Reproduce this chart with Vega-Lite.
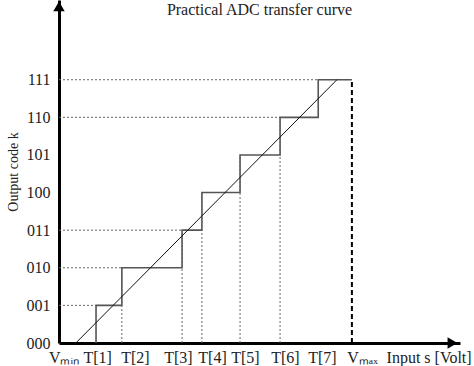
{
  "$schema": "https://vega.github.io/schema/vega-lite/v6.json",
  "width": 401,
  "height": 343,
  "autosize": "none",
  "padding": {"left": 59, "top": 0, "right": 14, "bottom": 23},
  "config": {"view": {"stroke": null}, "font": "Liberation Serif"},
  "title": {"text": "Practical ADC transfer curve", "fontSize": 16, "fontWeight": "normal", "font": "Liberation Serif", "color": "#222", "offset": -18, "anchor": "middle"},
  "datasets": {
    "steps": [
      {"s": 0.99, "code": 0, "i": 0},
      {"s": 0.99, "code": 1, "i": 1},
      {"s": 1.68, "code": 1, "i": 2},
      {"s": 1.68, "code": 2, "i": 3},
      {"s": 3.29, "code": 2, "i": 4},
      {"s": 3.29, "code": 3, "i": 5},
      {"s": 3.82, "code": 3, "i": 6},
      {"s": 3.82, "code": 4, "i": 7},
      {"s": 4.84, "code": 4, "i": 8},
      {"s": 4.84, "code": 5, "i": 9},
      {"s": 5.91, "code": 5, "i": 10},
      {"s": 5.91, "code": 6, "i": 11},
      {"s": 6.93, "code": 6, "i": 12},
      {"s": 6.93, "code": 7, "i": 13},
      {"s": 7.83, "code": 7, "i": 14}
    ],
    "diag": [{"s": 0.45, "code": 0}, {"s": 7.43, "code": 7}],
    "hguides": [
      {"s": 0, "t": 0.99, "code": 1}, {"s": 0, "t": 1.68, "code": 2}, {"s": 0, "t": 3.29, "code": 3}, {"s": 0, "t": 5.91, "code": 6}, {"s": 0, "t": 6.93, "code": 7}
    ],
    "vguides": [
      {"s": 1.68, "base": 0, "code": 2}, {"s": 3.29, "base": 0, "code": 3}, {"s": 3.82, "base": 0, "code": 4}, {"s": 4.84, "base": 0, "code": 5}, {"s": 5.91, "base": 0, "code": 6}
    ],
    "vmax": [{"s": 7.83, "base": 0, "code": 7}],
    "xarrow": [{"s": 10.52, "code": 0}],
    "yarrow": [{"s": 0, "code": 8.95}]
  },
  "layer": [
    {
      "data": {"name": "steps"},
      "mark": {"type": "line", "color": "#555", "strokeWidth": 1.6},
      "encoding": {
        "x": {"field": "s", "type": "quantitative",
          "scale": {"domain": [0, 10.72], "nice": false, "zero": false},
          "axis": {"values": [0.12, 1.02, 2.03, 3.18, 4.09, 4.97, 6.04, 7.03, 8.1, 9.88],
            "labelExpr": "datum.value == 0.12 ? 'Vₘᵢₙ' : datum.value == 1.02 ? 'T[1]' : datum.value == 2.03 ? 'T[2]' : datum.value == 3.18 ? 'T[3]' : datum.value == 4.09 ? 'T[4]' : datum.value == 4.97 ? 'T[5]' : datum.value == 6.04 ? 'T[6]' : datum.value == 7.03 ? 'T[7]' : datum.value == 8.1 ? 'Vₘₐₓ' : 'Input s [Volt]'",
            "ticks": false, "grid": false, "domainWidth": 3, "domainColor": "#000",
            "labelFontSize": 16, "labelFont": "Liberation Serif", "labelColor": "#222", "labelPadding": 6,
            "labelFlush": false, "labelOverlap": false, "title": null}},
        "y": {"field": "code", "type": "quantitative",
          "scale": {"domain": [0, 9.12], "nice": false, "zero": false},
          "axis": {"values": [0, 1, 2, 3, 4, 5, 6, 7],
            "labelExpr": "['000','001','010','011','100','101','110','111'][datum.value]",
            "ticks": false, "grid": false, "domainWidth": 3, "domainColor": "#000",
            "labelFontSize": 16, "labelFont": "Liberation Serif", "labelColor": "#222", "labelPadding": 9,
            "labelFlush": false, "labelOverlap": false,
            "title": "Output code k", "titleFont": "Liberation Serif", "titleFontSize": 14, "titleFontWeight": "normal", "titleColor": "#222", "titlePadding": 6}},
        "order": {"field": "i", "type": "quantitative"}
      }
    },
    {
      "data": {"name": "hguides"},
      "mark": {"type": "rule", "color": "#666", "strokeDash": [2, 2], "strokeWidth": 1},
      "encoding": {
        "x": {"field": "s", "type": "quantitative"},
        "x2": {"field": "t"},
        "y": {"field": "code", "type": "quantitative"}
      }
    },
    {
      "data": {"name": "vguides"},
      "mark": {"type": "rule", "color": "#666", "strokeDash": [2, 2], "strokeWidth": 1},
      "encoding": {
        "x": {"field": "s", "type": "quantitative"},
        "y": {"field": "base", "type": "quantitative"},
        "y2": {"field": "code"}
      }
    },
    {
      "data": {"name": "diag"},
      "mark": {"type": "line", "color": "#111", "strokeWidth": 1},
      "encoding": {
        "x": {"field": "s", "type": "quantitative"},
        "y": {"field": "code", "type": "quantitative"}
      }
    },
    {
      "data": {"name": "vmax"},
      "mark": {"type": "rule", "color": "#000", "strokeDash": [5, 3], "strokeWidth": 2},
      "encoding": {
        "x": {"field": "s", "type": "quantitative"},
        "y": {"field": "base", "type": "quantitative"},
        "y2": {"field": "code"}
      }
    },
    {
      "data": {"name": "xarrow"},
      "mark": {"type": "point", "shape": "triangle-right", "filled": true, "color": "#000", "opacity": 1, "size": 130},
      "encoding": {
        "x": {"field": "s", "type": "quantitative"},
        "y": {"field": "code", "type": "quantitative"}
      }
    },
    {
      "data": {"name": "yarrow"},
      "mark": {"type": "point", "shape": "triangle-up", "filled": true, "color": "#000", "opacity": 1, "size": 130},
      "encoding": {
        "x": {"field": "s", "type": "quantitative"},
        "y": {"field": "code", "type": "quantitative"}
      }
    }
  ]
}
